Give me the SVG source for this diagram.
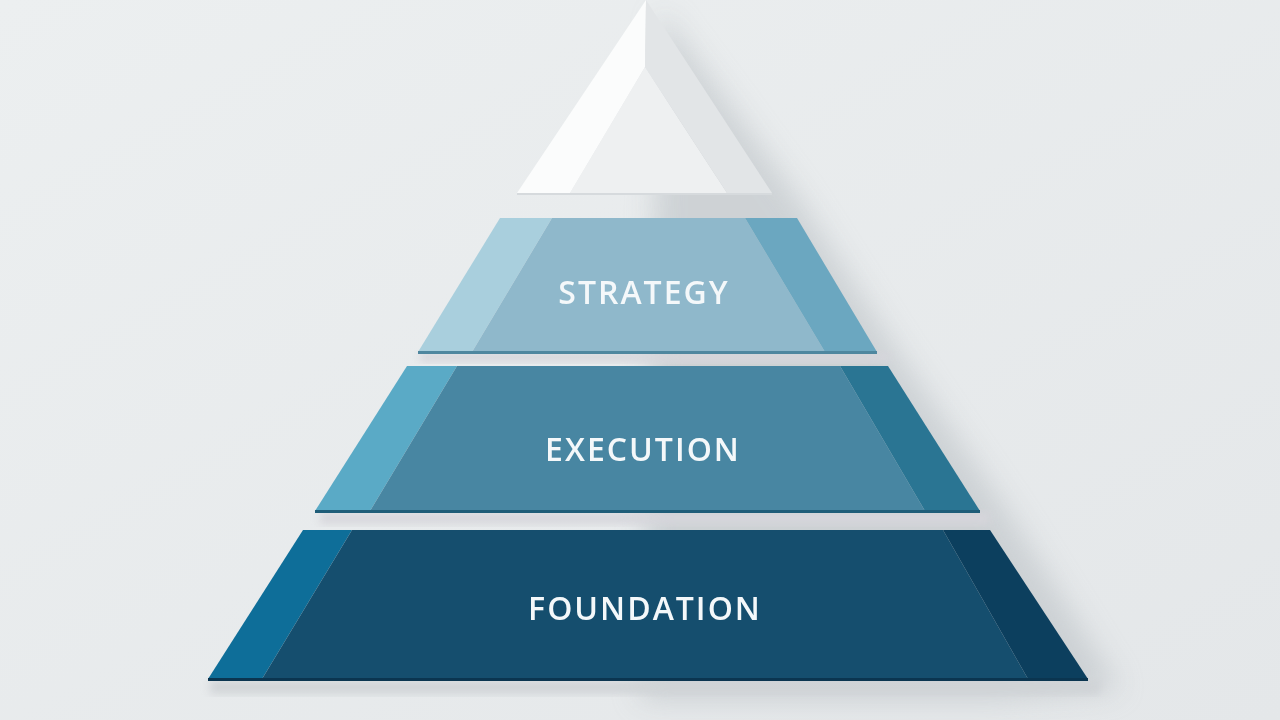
<svg xmlns="http://www.w3.org/2000/svg" width="1280" height="720" viewBox="0 0 1280 720">
  <defs>
    <linearGradient id="bg" x1="0" y1="0" x2="1" y2="1">
      <stop offset="0" stop-color="#eceff0"/>
      <stop offset="1" stop-color="#e4e7e9"/>
    </linearGradient>
    <filter id="blur" x="-20%" y="-20%" width="140%" height="140%">
      <feGaussianBlur stdDeviation="14"/>
    </filter>
    <filter id="blur2" x="-20%" y="-20%" width="140%" height="140%">
      <feGaussianBlur stdDeviation="4"/>
    </filter>
    <style>
      .label { font-family: "Open Sans", "Liberation Sans", sans-serif; font-weight: 600; font-size: 32px; fill: #f4f8fa; text-anchor: middle; letter-spacing: 2px; }
    </style>
  </defs>
  <rect width="1280" height="720" fill="url(#bg)"/>
  <!-- shadows -->
  <g id="shadows" opacity="0.55">
    <polygon points="660,10 800,200 900,355 1010,515 1120,690 1000,700 640,700" fill="#b8bec2" filter="url(#blur)"/>
    <rect x="420" y="352" width="470" height="10" fill="#c9c6cf" filter="url(#blur2)"/>
    <rect x="320" y="512" width="670" height="12" fill="#c9c6cf" filter="url(#blur2)"/>
    <rect x="210" y="680" width="890" height="14" fill="#bfc3c7" filter="url(#blur2)"/>
  </g>
  <g id="apex">
    <polygon points="646,0 517,193 570,193 645,67" fill="#fbfcfc"/>
    <polygon points="645,67 570,193 727,193" fill="#eef0f1"/>
    <polygon points="646,0 645,67 727,193 772,193" fill="#e2e5e7"/>
    <rect x="517" y="193" width="255" height="2" fill="#d6dadd"/>
  </g>
  <g id="strategy">
    <polygon points="500,218 552,218 472,352 418,352" fill="#a9cfdd"/>
    <polygon points="552,218 745,218 825,352 472,352" fill="#8fb8cb"/>
    <polygon points="745,218 797,218 877,352 825,352" fill="#6ba7c0"/>
    <rect x="418" y="351" width="459" height="3" fill="#4f879f"/>
    <text class="label" x="644" y="304">STRATEGY</text>
  </g>
  <g id="execution">
    <polygon points="407,366 457,366 370,511 315,511" fill="#5aaac6"/>
    <polygon points="457,366 840,366 925,511 370,511" fill="#4886a2"/>
    <polygon points="840,366 888,366 980,511 925,511" fill="#2a7593"/>
    <rect x="315" y="510" width="665" height="3" fill="#1f5d78"/>
    <text class="label" x="643" y="461">EXECUTION</text>
  </g>
  <g id="foundation">
    <polygon points="303,530 352,530 262,679 208,679" fill="#0e6e99"/>
    <polygon points="352,530 943,530 1028,679 262,679" fill="#154e6e"/>
    <polygon points="943,530 990,530 1088,679 1028,679" fill="#0c3f5e"/>
    <rect x="208" y="678" width="880" height="3" fill="#0b3550"/>
    <text class="label" x="645" y="620">FOUNDATION</text>
  </g>
</svg>
